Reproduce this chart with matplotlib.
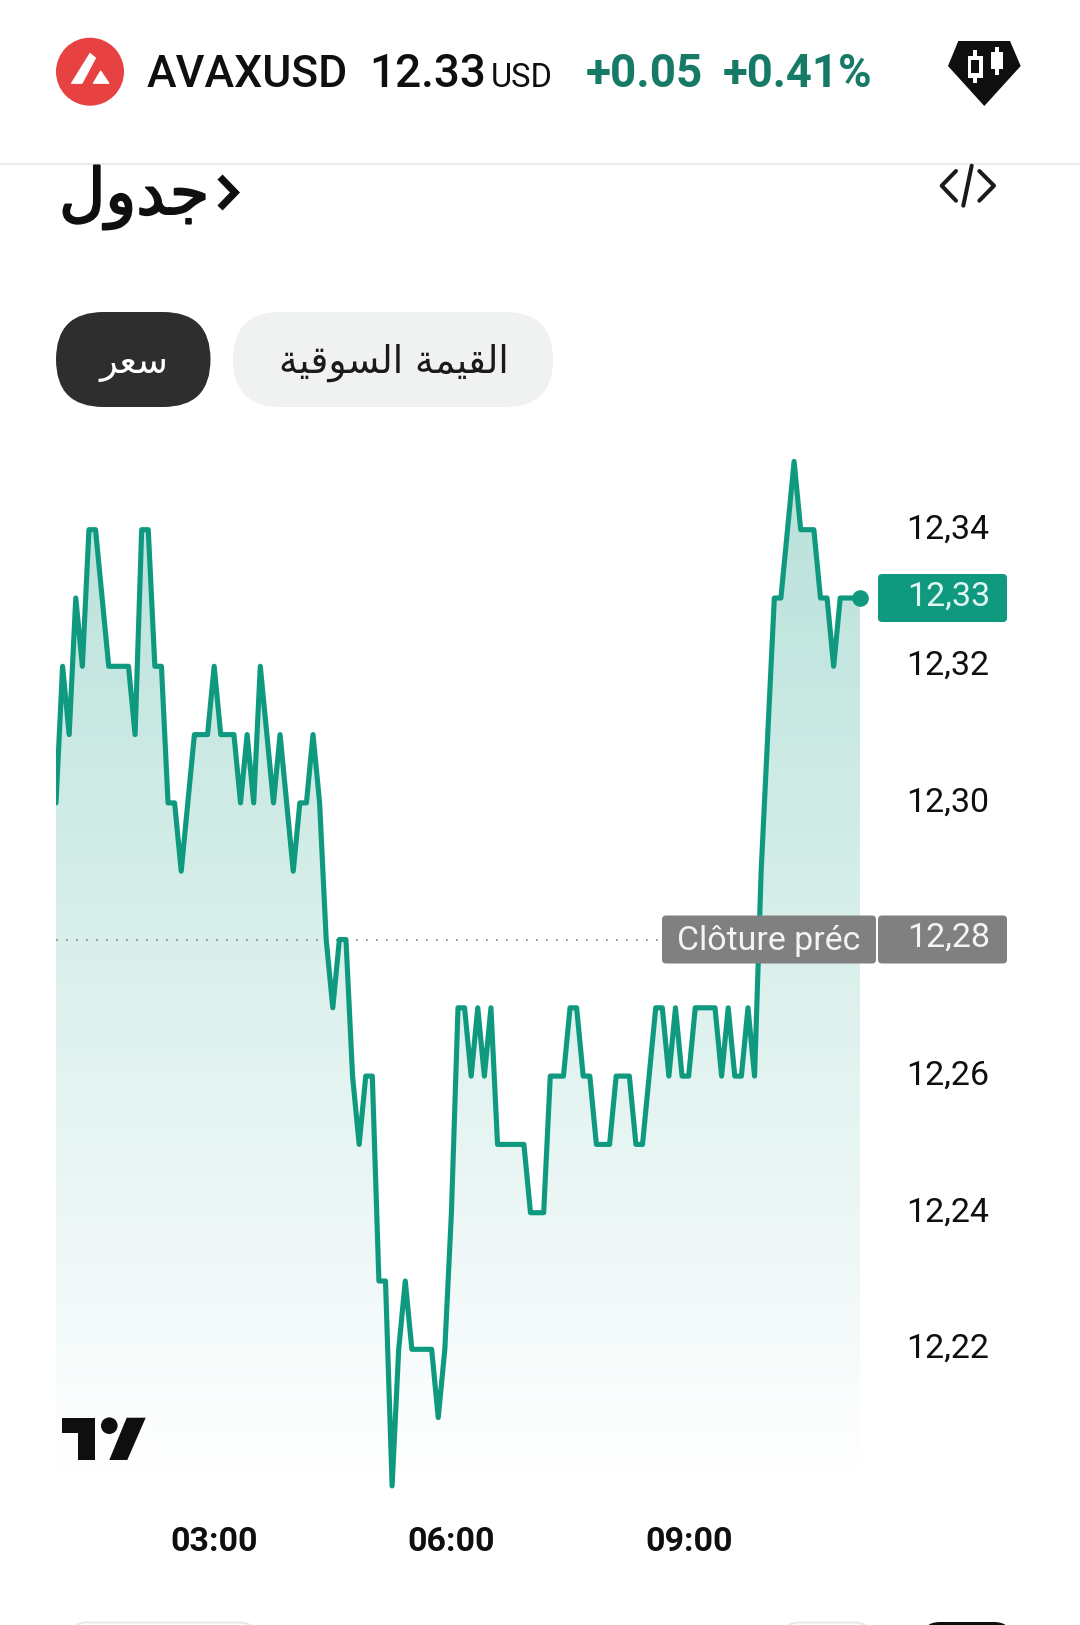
import matplotlib
matplotlib.use("Agg")
import matplotlib.pyplot as plt
import matplotlib.patheffects as pe
import numpy as np
from matplotlib.patches import Circle, FancyBboxPatch, Polygon, Rectangle
from matplotlib.transforms import ScaledTranslation

plt.rcParams["font.family"] = ["Roboto", "DejaVu Sans"]

# 5 minute closes, first point is 01:00
prices = [
    12.30, 12.32, 12.31, 12.33, 12.32, 12.34, 12.34, 12.33, 12.32, 12.32,
    12.32, 12.32, 12.31, 12.34, 12.34, 12.32, 12.32, 12.30, 12.30, 12.29,
    12.30, 12.31, 12.31, 12.31, 12.32, 12.31, 12.31, 12.31, 12.30, 12.31,
    12.30, 12.32, 12.31, 12.30, 12.31, 12.30, 12.29, 12.30, 12.30, 12.31,
    12.30, 12.28, 12.27, 12.28, 12.28, 12.26, 12.25, 12.26, 12.26, 12.23,
    12.23, 12.20, 12.22, 12.23, 12.22, 12.22, 12.22, 12.22, 12.21, 12.22,
    12.24, 12.27, 12.27, 12.26, 12.27, 12.26, 12.27, 12.25, 12.25, 12.25,
    12.25, 12.25, 12.24, 12.24, 12.24, 12.26, 12.26, 12.26, 12.27, 12.27,
    12.26, 12.26, 12.25, 12.25, 12.25, 12.26, 12.26, 12.26, 12.25, 12.25,
    12.26, 12.27, 12.27, 12.26, 12.27, 12.26, 12.26, 12.27, 12.27, 12.27,
    12.27, 12.26, 12.27, 12.26, 12.26, 12.27, 12.26, 12.29, 12.31, 12.33,
    12.33, 12.34, 12.35, 12.34, 12.34, 12.34, 12.33, 12.33, 12.32, 12.33,
    12.33, 12.33, 12.33,
]
y_ticks = [12.34, 12.32, 12.30, 12.26, 12.24, 12.22]
y_tick_labels = ["12,34", "12,32", "12,30", "12,26", "12,24", "12,22"]
x_ticks = [24, 60, 96]
x_tick_labels = ["03:00", "06:00", "09:00"]
last_price = 12.33
last_label = "12,33"
prev_close = 12.28
prev_label = "12,28"
prev_text = "Clôture préc"

# arabic in presentation forms, visual order (no shaping in matplotlib)
title_ar = "\uFEDD\uFEED\uFEAA\uFE9F"
pill_price_ar = "\uFEAE\uFECC\uFEB3"
pill_cap_ar = "\uFE94\uFEF4\uFED7\uFEEE\uFEB4\uFEDF\uFE8D \uFE94\uFEE4\uFEF4\uFED8\uFEDF\uFE8D"

GREEN = "#0f9a80"
DARK_GREEN = "#177a67"
BLACK = "#0f0f0f"
GREY = "#808080"

W, H = 1080, 1625
fig = plt.figure(figsize=(W / 100, H / 100), dpi=100, facecolor="white")

# chart axes, placed so 12.33 is at y=598 and one cent is 68.3 px
y_top, y_bottom = 12.355, 12.195
px_top = 598 - (y_top - 12.33) * 6830
px_bottom = 598 + (12.33 - y_bottom) * 6830
ax = fig.add_axes([56 / W, 1 - px_bottom / H, 804 / W, (px_bottom - px_top) / H])
ax.patch.set_alpha(0)
for s in ax.spines.values():
    s.set_visible(False)

xs = np.arange(len(prices))
poly = ax.fill_between(xs, prices, 12.20, facecolor="none", edgecolor="none")
grad = np.zeros((256, 1, 4))
grad[..., 0] = 15 / 255
grad[..., 1] = 154 / 255
grad[..., 2] = 128 / 255
grad[:, 0, 3] = np.linspace(0.30, 0.0, 256)
im = ax.imshow(grad, extent=[0, len(prices) - 1, 12.20, 12.35], aspect="auto", zorder=1)
im.set_clip_path(poly.get_paths()[0], transform=ax.transData)

ax.plot([0, 102], [prev_close, prev_close], color=GREY, lw=1.2, ls=(0, (1, 5)), zorder=2)
ax.plot(xs, prices, color=GREEN, lw=3.7, solid_joinstyle="round", solid_capstyle="round", zorder=3)
ax.plot(xs[-1], last_price, "o", color=GREEN, ms=12, mew=0, clip_on=False, zorder=4)

ax.set_xlim(0, len(prices) - 1)
ax.set_ylim(y_bottom, y_top)
ax.yaxis.tick_right()
ax.set_yticks(y_ticks, y_tick_labels)
ax.set_xticks(x_ticks, x_tick_labels)
ax.tick_params(axis="y", length=0, pad=33.5, labelsize=24.5, labelcolor=BLACK)
ax.tick_params(axis="x", length=0, pad=4.5, labelsize=24.5, labelcolor=BLACK)
for lab in ax.get_xticklabels():
    lab.set_fontweight("semibold")
shift = ScaledTranslation(0, 4 / 100, fig.dpi_scale_trans)
for lab in ax.get_yticklabels():
    lab.set_transform(lab.get_transform() + shift)

# everything around the chart is laid out in screen pixels
ui = fig.add_axes([0, 0, 1, 1], facecolor="none")
ui.set_xlim(0, W)
ui.set_ylim(H, 0)
ui.axis("off")


def to_ui(x, v):
    return ui.transData.inverted().transform(ax.transData.transform((x, v)))


def pill(x0, y0, x1, y1, r, **kw):
    ui.add_patch(FancyBboxPatch((x0 + r, y0 + r), x1 - x0 - 2 * r, y1 - y0 - 2 * r,
                                boxstyle=f"round,pad={r},rounding_size={r}", lw=kw.pop("lw", 0), **kw))


# header
ui.add_patch(Circle((90, 71.7), 34, fc="#e84142", ec="none"))
ui.add_patch(Polygon([(90, 53.5), (95.5, 58), (82, 83.3), (71.5, 83.3)], fc="white", ec="white", lw=0.8, joinstyle="round"))
ui.add_patch(Polygon([(100.7, 71), (109, 83.3), (93.3, 83.3)], fc="white", ec="white", lw=0.8, joinstyle="round"))
ui.text(147, 87, "AVAXUSD", fontsize=32, fontweight="medium", color=BLACK, va="baseline")
ui.text(369, 87, "12.33", fontsize=33, fontweight="medium", color=BLACK, va="baseline")
ui.text(490.5, 87, "USD", fontsize=23.5, color=BLACK, va="baseline")
ui.text(586, 87, "+0.05", fontsize=33, fontweight="semibold", color=DARK_GREEN, va="baseline")
ui.text(722.5, 87, "+0.41%", fontsize=32.8, fontweight="semibold", color=DARK_GREEN, va="baseline")

# gem icon
ui.add_patch(Polygon([(958.3, 41), (1010, 41), (1020.7, 66), (984.3, 106), (948, 66)], fc=BLACK, ec="none"))
ui.add_patch(Rectangle((973, 50), 4, 33, fc="white", ec="none"))
ui.add_patch(Rectangle((967.7, 56), 15, 21.7, fc="white", ec="none"))
ui.add_patch(Rectangle((971.3, 60), 7.7, 13.3, fc=BLACK, ec="none"))
ui.add_patch(Rectangle((994.7, 46.7), 4, 28.3, fc="white", ec="none"))
ui.add_patch(Rectangle((990.7, 51.7), 12, 17.7, fc="white", ec="none"))

# title row
ui.text(59, 214, title_ar, family=["DejaVu Sans"], fontsize=46, color=BLACK, va="baseline",
        path_effects=[pe.withStroke(linewidth=1.4, foreground=BLACK)])
ui.add_patch(Rectangle((0, 120), 200, 43, fc="white", ec="none"))
ui.plot([0, W], [163.5, 163.5], color="#ebebeb", lw=1.4)
ui.plot([220, 235, 220], [177, 192.5, 208], color=BLACK, lw=5.2, solid_joinstyle="miter", solid_capstyle="butt")
ui.plot([956, 941.7, 956], [171, 185.7, 200.7], color="#1a1a1a", lw=2.9, solid_capstyle="round", solid_joinstyle="round")
ui.plot([971.7, 963.3], [165.7, 205.7], color="#1a1a1a", lw=2.9, solid_capstyle="round")
ui.plot([979.3, 994, 979.3], [171, 185.7, 200.7], color="#1a1a1a", lw=2.9, solid_capstyle="round", solid_joinstyle="round")

# pills
pill(56, 312, 210.5, 407, 47.5, fc="#2e2e2e", ec="none")
ui.text(133.5, 364, pill_price_ar, family=["DejaVu Sans"], fontsize=26.5, color="white", ha="center", va="center")
pill(233, 312, 553, 407, 47.5, fc="#f0f1f1", ec="none")
ui.text(393.5, 363, pill_cap_ar, family=["DejaVu Sans"], fontsize=27, color="#1a1a1a", ha="center", va="center")

# last price and previous close badges
_, y_last = to_ui(0, last_price)
pill(878, y_last - 24, 1007, y_last + 24, 4, fc=GREEN, ec="none")
ui.text(907, y_last - 1.5, last_label, fontsize=24.5, color="#dff7f1", va="center")

_, y_prev = to_ui(0, prev_close)
pill(662, y_prev - 24, 876, y_prev + 24, 4, fc=GREY, ec="none")
pill(878, y_prev - 24, 1007, y_prev + 24, 4, fc=GREY, ec="none")
ui.text(677, y_prev + 1, prev_text, fontsize=24.4, color="#f4f4f4", va="center")
ui.text(907, y_prev - 2, prev_label, fontsize=24.5, color="#f4f4f4", va="center")

# tradingview mark
ui.add_patch(Rectangle((56, 1412), 97, 50, fc="white", ec="none", alpha=0.6))
ui.add_patch(Polygon([(61.7, 1417.7), (95, 1417.7), (95, 1460), (78.3, 1460), (78.3, 1433.3), (61.7, 1433.3)], fc=BLACK, ec="none"))
ui.add_patch(Circle((109.3, 1425.7), 8.3, fc=BLACK, ec="none"))
ui.add_patch(Polygon([(126.7, 1417.7), (145.7, 1417.7), (127.3, 1460), (109.3, 1460)], fc=BLACK, ec="none"))

# bottom buttons, cut by the screen edge
pill(69, 1622.5, 257, 1660, 18, fc="white", ec="#e8e8e8", lw=1.4)
pill(782, 1622.5, 872, 1660, 18, fc="white", ec="#e8e8e8", lw=1.4)
pill(922, 1622, 1012, 1660, 18, fc=BLACK, ec="none")

fig.savefig("out.png", dpi=100)
